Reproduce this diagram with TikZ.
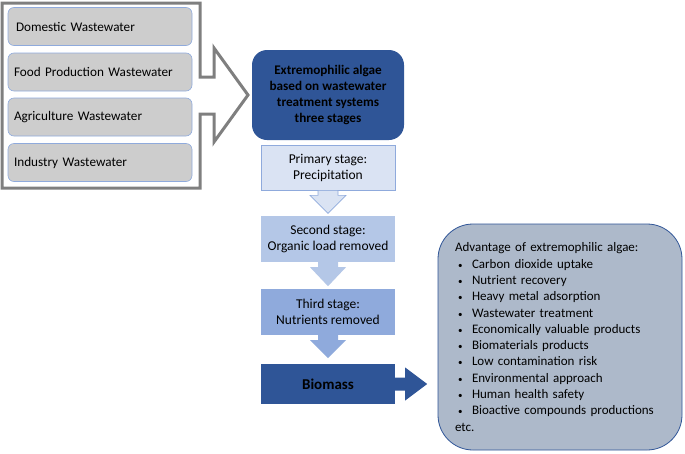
\documentclass[tikz,border=0pt]{standalone}
\usepackage{fontspec}
\setmainfont{Carlito}
\usepackage{xcolor}
\usepackage{tikz}
\usetikzlibrary{calc}

\definecolor{darkblue}{HTML}{2F5597}
\definecolor{paleblue}{HTML}{DAE3F3}
\definecolor{lightblue}{HTML}{B4C7E7}
\definecolor{midblue}{HTML}{8FAADC}
\definecolor{boxgray}{HTML}{CDCDCD}
\definecolor{framegray}{HTML}{7F7F7F}
\definecolor{advgray}{HTML}{ADB9CA}

\newcommand{\advitem}{\hspace*{3pt}\makebox[14pt][l]{\fontsize{9}{9}\selectfont\textbullet}}

\begin{document}
\begin{tikzpicture}[x=1pt,y=-1pt,
  srcbox/.style={draw=midblue,fill=boxgray,rounded corners=6pt,line width=0.6pt,
    minimum height=38pt,text width=172pt,inner xsep=6pt,align=left,
    font=\fontsize{13.2}{15}\selectfont},
  stagebox/.style={minimum width=134pt,minimum height=46pt,align=center,
    inner sep=0pt,font=\fontsize{13.5}{16}\selectfont},
  downarrow/.style={line width=0.6pt}]
\useasboundingbox (0,0) rectangle (685,453);
% wastewater sources
\node[srcbox] (dom) at (100,26.5) {\hspace*{2pt}Domestic Wastewater};
\node[srcbox] (food) at (100,72) {Food Production Wastewater};
\node[srcbox] (agri) at (100,117) {Agriculture Wastewater};
\node[srcbox] (ind) at (100,162.5) {Industry Wastewater};
\draw[framegray,line width=3pt,line join=miter]
  (2,3)--(200,3)--(200,77)--(214,77)--(214,48)--(248,95)--(214,142)--(214,114)
  --(200,114)--(200,188)--(2,188)--cycle;
% treatment stages
\node[fill=darkblue,rounded corners=15pt,minimum width=152pt,minimum height=90pt,
  align=center,inner sep=0pt,font=\fontsize{13.2}{15.7}\selectfont\bfseries] (extr) at (328,95)
  {Extremophilic algae\\based on wastewater\\treatment systems\\three stages};
\node[stagebox,draw=midblue,fill=paleblue,line width=0.8pt,minimum height=45pt] (prim) at (328,167.5)
  {Primary stage:\\Precipitation};
\node[stagebox,fill=lightblue] (sec) at (328,239) {Second stage:\\Organic load removed};
\node[stagebox,fill=midblue] (third) at (328,312) {Third stage:\\Nutrients removed};
\node[stagebox,fill=darkblue,minimum height=40pt,font=\fontsize{15}{16}\selectfont\bfseries] (bio) at (328,384)
  {Biomass};
\draw[downarrow,draw=midblue,fill=paleblue] ($(prim.south)+(-10,0)$) -- ++(0,5) -- ++(-8,0)
  -- ++(18,18) -- ++(18,-18) -- ++(-8,0) -- ++(0,-5) -- cycle;
\fill[lightblue] ($(sec.south)+(-10,0)$) -- ++(0,5) -- ++(-8,0)
  -- ++(18,19) -- ++(18,-19) -- ++(-8,0) -- ++(0,-5) -- cycle;
\fill[midblue] ($(third.south)+(-10,0)$) -- ++(0,5) -- ++(-8,0)
  -- ++(18,18) -- ++(18,-18) -- ++(-8,0) -- ++(0,-5) -- cycle;
% advantages
\node[draw=darkblue,fill=advgray,rounded corners=35pt,line width=0.8pt,
  minimum width=244pt,minimum height=226pt,text width=210pt,inner xsep=17pt,align=left,
  font=\fontsize{13}{16.3}\selectfont] (adv) at (560,337)
  {Advantage of extremophilic algae:\\
   \advitem Carbon dioxide uptake\\
   \advitem Nutrient recovery\\
   \advitem Heavy metal adsorption\\
   \advitem Wastewater treatment\\
   \advitem Economically valuable products\\
   \advitem Biomaterials products\\
   \advitem Low contamination risk\\
   \advitem Environmental approach\\
   \advitem Human health safety\\
   \advitem Bioactive compounds productions\\
   etc.};
\fill[darkblue] ($(bio.east)+(0,-6.5)$) -- ++(10,0) -- ++(0,-10) -- ++(22,16.5)
  -- ++(-22,16.5) -- ++(0,-10) -- ($(bio.east)+(0,6.5)$) -- cycle;
\end{tikzpicture}
\end{document}
